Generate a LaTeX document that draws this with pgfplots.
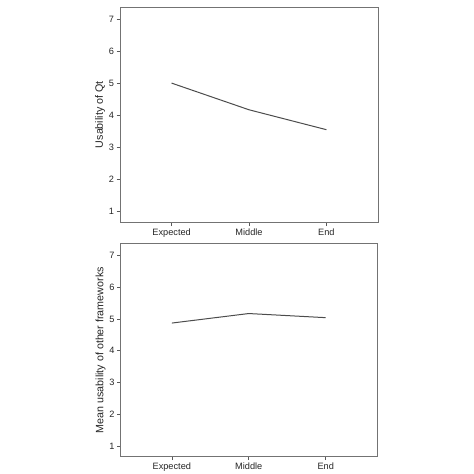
\documentclass[border=0pt]{standalone}
\usepackage{pgfplots}
\pgfplotsset{compat=1.18}
\usepackage{fontspec}
\setmainfont{Liberation Sans}
\begin{document}
\begin{tikzpicture}
\useasboundingbox (0pt,0pt) rectangle (474pt,-474pt);
\pgfplotsset{
  myax/.style={
    scale only axis,
    xmin=-0.667, xmax=2.667,
    ymin=0.66, ymax=7.37,
    xtick={0,1,2},
    xticklabels={Expected,Middle,End},
    ytick={1,2,3,4,5,6,7},
    axis line style={black!55, line width=0.6pt},
    tick style={black!65, line width=0.6pt},
    major tick length=3.5pt,
    tick align=outside,
    xtick pos=bottom, ytick pos=left,
    every tick label/.append style={font=\fontsize{9.2}{11}\selectfont, color=black!85},
    label style={font=\fontsize{10.7}{12}\selectfont, color=black!85},
    /pgf/number format/assume math mode=true,
    yticklabel style={xshift=1pt},
    xticklabel style={yshift=1pt},
  }
}
\begin{axis}[myax, at={(120pt,-222.5pt)}, anchor=south west, width=258pt, height=215.5pt,
  ylabel={Usability of Qt}, ylabel style={yshift=-3pt}]
\addplot[black!70, line width=1pt] coordinates {(0,5.0) (1,4.17) (2,3.55)};
\end{axis}
\begin{axis}[myax, at={(120.5pt,-456.7pt)}, anchor=south west, width=256.5pt, height=213pt,
  ylabel={Mean usability of other frameworks}, ylabel style={yshift=-3pt}]
\addplot[black!70, line width=1pt] coordinates {(0,4.87) (1,5.17) (2,5.04)};
\end{axis}
\end{tikzpicture}
\end{document}
